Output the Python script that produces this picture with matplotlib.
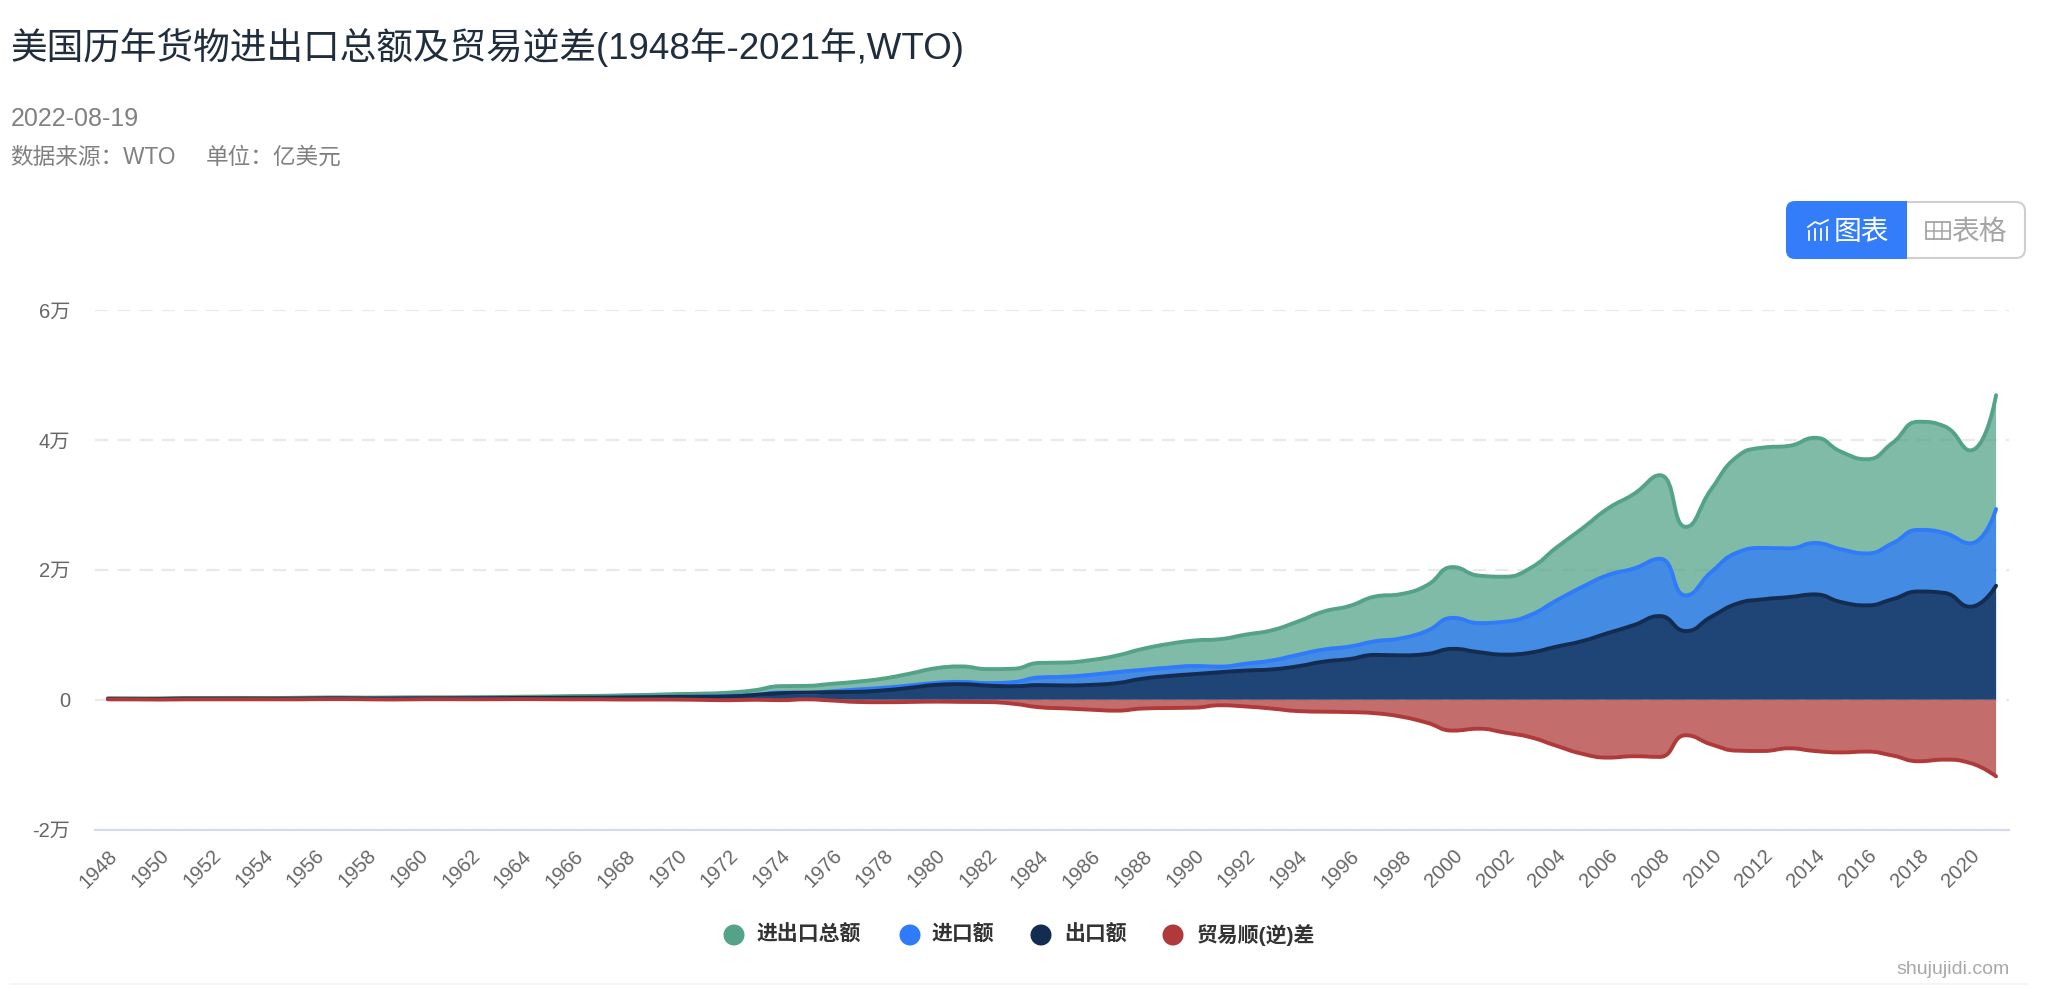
import numpy as np
import matplotlib
matplotlib.use('Agg')
import matplotlib.pyplot as plt
from matplotlib.path import Path
from matplotlib.patches import PathPatch, Circle, FancyBboxPatch

plt.rcParams['font.family'] = ['Liberation Sans', 'Noto Sans CJK SC', 'DejaVu Sans']

years = list(range(1948, 2022))

# unit: 100 million USD
total = [207, 190, 198, 260, 259, 267, 254, 270, 316, 338, 310, 333, 358, 357, 381, 403, 452, 489,
         555, 580, 675, 741, 857, 924, 1079, 1447, 2078, 2117, 2442, 2780, 3260, 4000, 4830, 5110,
         4700, 4750, 5650, 5710, 6090, 6780, 7810, 8570, 9100, 9310, 10020, 10680, 12020, 13560,
         14420, 15880, 16260, 17620, 20410, 19100, 18930, 20270, 23410, 26360, 29450, 31680, 34560,
         26610, 32470, 37460, 38810, 39080, 40320, 38190, 37020, 39550, 42790, 42100, 38380, 46890]
imports = [81, 70, 96, 110, 107, 109, 103, 115, 126, 130, 132, 156, 152, 147, 164, 171, 187, 214,
           255, 268, 331, 361, 425, 484, 585, 733, 1084, 1037, 1292, 1570, 1830, 2180, 2570, 2730,
           2540, 2690, 3410, 3530, 3820, 4240, 4590, 4930, 5170, 5090, 5540, 6030, 6890, 7710,
           8170, 8990, 9440, 10590, 12590, 11790, 12000, 13030, 15260, 17350, 19190, 20200, 21690,
           16050, 19690, 22660, 23360, 23290, 24120, 23160, 22510, 24080, 26140, 25670, 24070, 29350]
exports = [126, 120, 102, 150, 152, 158, 151, 155, 190, 208, 178, 177, 206, 210, 217, 232, 265, 275,
           300, 312, 344, 380, 432, 440, 494, 714, 994, 1080, 1150, 1210, 1430, 1820, 2260, 2380,
           2160, 2060, 2240, 2180, 2270, 2540, 3220, 3640, 3930, 4220, 4480, 4650, 5130, 5850,
           6250, 6890, 6820, 7030, 7820, 7310, 6930, 7240, 8150, 9010, 10260, 11480, 12870,
           10560, 12780, 14800, 15450, 15790, 16200, 15030, 14510, 15470, 16650, 16430, 14310, 17540]
balance = [45, 50, 6, 40, 45, 49, 48, 40, 64, 78, 46, 21, 54, 63, 53, 61, 78, 61,
           45, 44, 13, 19, 7, -44, -91, -19, -90, 43, -142, -360, -400, -360, -310, -350,
           -380, -630, -1170, -1350, -1550, -1700, -1370, -1290, -1240, -870, -1060, -1380, -1760, -1860,
           -1920, -2100, -2620, -3560, -4770, -4480, -5070, -5790, -7110, -8340, -8930, -8720, -8820,
           -5490, -6910, -7860, -7910, -7500, -7920, -8130, -8000, -8610, -9490, -9240, -9760, -11810]

series_names = ['进出口总额', '进口额', '出口额', '贸易顺(逆)差']
colors = ['#54A388', '#2F7BFA', '#132C50', '#B03A3A']
ytick_vals = [-20000, 0, 20000, 40000, 60000]
ytick_labels = ['-2万', '0', '2万', '4万', '6万']


def handles(p, smooth=0.5):
    # in/out bezier handles in screen space, kept between neighbouring points so peaks stay on the data
    h_in = p.copy()
    h_out = p.copy()
    for i in range(1, len(p) - 1):
        l1 = np.hypot(*(p[i] - p[i - 1]))
        l2 = np.hypot(*(p[i + 1] - p[i]))
        v = (p[i + 1] - p[i - 1]) * smooth
        out = p[i] + v * l2 / (l1 + l2)
        lo, hi = np.minimum(p[i], p[i + 1]), np.maximum(p[i], p[i + 1])
        out = np.clip(out, lo, hi)
        inn = p[i] - (out - p[i]) * l1 / l2
        lo, hi = np.minimum(p[i], p[i - 1]), np.maximum(p[i], p[i - 1])
        inn = np.clip(inn, lo, hi)
        out = p[i] + (p[i] - inn) * l2 / l1
        h_in[i] = inn
        h_out[i] = out
    return h_in, h_out


def smooth_path(ax, xs, ys, closed=False):
    p = ax.transData.transform(np.column_stack([xs, ys]).astype(float))
    h_in, h_out = handles(p)
    back = ax.transData.inverted()
    p, h_in, h_out = back.transform(p), back.transform(h_in), back.transform(h_out)
    verts = [p[0]]
    codes = [Path.MOVETO]
    for i in range(len(p) - 1):
        verts += [h_out[i], h_in[i + 1], p[i + 1]]
        codes += [Path.CURVE4] * 3
    if closed:
        verts += [[xs[-1], 0], [xs[0], 0], p[0]]
        codes += [Path.LINETO, Path.LINETO, Path.CLOSEPOLY]
    return Path(verts, codes)


fig = plt.figure(figsize=(20.48, 9.89), dpi=100, facecolor='white')
W, H = 2048, 989

ax = fig.add_axes([95 / W, 1 - 829.5 / H, (2009 - 95) / W, (829.5 - 310) / H])
ax.set_xlim(1947.5, 2021.5)
ax.set_ylim(-20000, 60000)

for name, vals, c in zip(series_names, [total, imports, exports, balance], colors):
    ax.add_patch(PathPatch(smooth_path(ax, years, vals, closed=True), fc=c, ec='none', alpha=0.74, zorder=3))
    ax.add_patch(PathPatch(smooth_path(ax, years, vals), fc='none', ec=c, lw=2.8, capstyle='round', zorder=4))

ax.set_yticks(ytick_vals)
ax.set_yticklabels(ytick_labels)
ax.set_xticks(years[::2])
ax.set_xticklabels(years[::2], rotation=45, ha='right', va='top', rotation_mode='anchor')
ax.tick_params(axis='both', length=0, labelsize=14.5, labelcolor='#666666')
ax.tick_params(axis='y', pad=18)
ax.tick_params(axis='x', pad=12)

ax.grid(axis='y', color='#E9E9E9', lw=1.6, ls=(0, (6, 4)), zorder=1)
for s in ['top', 'left', 'right']:
    ax.spines[s].set_visible(False)
ax.spines['bottom'].set_color('#D5DAEE')
ax.spines['bottom'].set_linewidth(1.5)
ax.patch.set_alpha(0)

# page furniture drawn in pixel coordinates
page = fig.add_axes([0, 0, 1, 1], zorder=-1)
page.set_xlim(0, W)
page.set_ylim(H, 0)
page.axis('off')

page.text(11, 47, '美国历年货物进出口总额及贸易逆差(1948年-2021年,WTO)', fontsize=26.4, color='#1F2D3D', va='center')
page.text(11, 119, '2022-08-19', fontsize=18, color='#808080', va='center')
page.text(10, 157, '数据来源：WTO', fontsize=16.3, color='#808080', va='center')
page.text(206, 157, '单位：亿美元', fontsize=16.3, color='#808080', va='center')

# chart / table switch
page.add_patch(FancyBboxPatch((1787, 202), 238, 56, boxstyle='round,pad=0,rounding_size=9',
                              fc='white', ec='#CFCFCF', lw=1.5))
page.add_patch(FancyBboxPatch((1786, 201), 40, 58, boxstyle='round,pad=0,rounding_size=9',
                              fc='#337DFB', ec='none'))
page.fill_between([1800, 1907], 201, 259, color='#337DFB', lw=0)
page.text(1861, 233, '图表', fontsize=20, color='white', ha='center', va='center')
page.text(1979, 233, '表格', fontsize=20, color='#A5A5A5', ha='center', va='center')
for x, top in zip([1809, 1815, 1821, 1827], [231, 229, 229, 227]):
    page.plot([x, x], [top, 240], color='white', lw=1.3)
page.plot([1808, 1815, 1820, 1828], [227, 222, 224, 220], color='white', lw=1.3)
page.add_patch(plt.Rectangle((1926, 222), 24, 17, fc='none', ec='#A5A5A5', lw=1.3))
for x in [1934, 1942]:
    page.plot([x, x], [222, 239], color='#A5A5A5', lw=1.1)
page.plot([1926, 1950], [230.5, 230.5], color='#A5A5A5', lw=1.1)

# legend
for name, c, mx, tx in zip(series_names, colors, [734, 910, 1041, 1173], [757, 932, 1064, 1197]):
    page.add_patch(Circle((mx, 935), 10.5, fc=c, ec='none'))
    page.text(tx, 935, name, fontsize=15, fontweight='bold', color='#333333', va='center')

page.text(2010, 970, 'shujujidi.com', fontsize=14, color='#A8A8A8', ha='right', va='center')
page.plot([10, 2028], [984, 984], color='#F4F4F4', lw=1.2)

fig.savefig('out.png', dpi=100)
